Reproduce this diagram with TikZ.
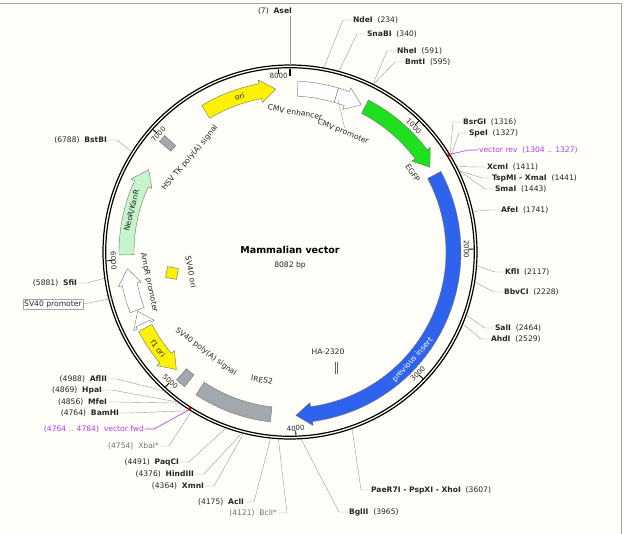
\documentclass[tikz,border=0pt]{standalone}
\usepackage{fontspec}
\setmainfont{DejaVu Sans}
\begin{document}
\definecolor{bg}{HTML}{FFFEF8}
\definecolor{egfp}{HTML}{1EE01E}
\definecolor{ins}{HTML}{2F63EE}
\definecolor{yel}{HTML}{FFF200}
\definecolor{neo}{HTML}{C6F5CC}
\definecolor{fgray}{HTML}{A2A8AE}
\definecolor{purp}{HTML}{B43CF0}
\newcommand\bp[1]{({90-(#1)*0.0445434}}
\newcommand\FArr[3]{%
 \pgfmathsetmacro\ta{90-(#1)*0.0445434}%
 \pgfmathsetmacro\tb{90-(#2)*0.0445434}%
 \pgfmathsetmacro\th{\tb+((#2)>(#1)?5.5:-5.5)}%
 \draw[#3] (\ta:171) arc[start angle=\ta,end angle=\th,radius=171] -- (\th:175) -- (\tb:163.5) -- (\th:152) -- (\th:156) arc[start angle=\th,end angle=\ta,radius=156] -- cycle;}
\newcommand\FBox[3]{%
 \pgfmathsetmacro\ta{90-(#1)*0.0445434}%
 \pgfmathsetmacro\tb{90-(#2)*0.0445434}%
 \draw[#3] (\ta:171) arc[start angle=\ta,end angle=\tb,radius=171] -- (\tb:156) arc[start angle=\tb,end angle=\ta,radius=156] -- cycle;}
\newcommand\EnzR[5][lead]{%
 \begin{scope}[imgc]\node[enz,anchor=west] (#2) at (#3) {#4};\end{scope}
 \draw[#1] \bp{#5}:187.5) -- ([xshift=-9pt]#2.west) -- (#2.west);}
\newcommand\EnzL[5][lead]{%
 \begin{scope}[imgc]\node[enz,anchor=east] (#2) at (#3) {#4};\end{scope}
 \draw[#1] \bp{#5}:187.5) -- ([xshift=9pt]#2.east) -- (#2.east);}
\newcommand\Tk[1]{%
 \pgfmathsetmacro\tt{90-(#1)*0.0445434}%
 \pgfmathsetmacro\rot{((#1)>2020 && (#1)<6060) ? (\tt+90) : (\tt-90)}%
 \draw[line width=0.9pt] (\tt:183.5) -- (\tt:178.5);
 \node[tick,rotate=\rot] (t#1) at (\tt:176.5) {#1};}
\tikzset{
 x=1pt,y=1pt,
 imgc/.style={shift={(-290,252)},yscale=-1},
 enz/.style={font=\fontsize{7.6}{8}\selectfont, inner sep=0.8pt, text=black!85},
 flab/.style={font=\fontsize{7.6}{8}\selectfont, inner sep=0.5pt, text=black!85},
 tick/.style={font=\fontsize{7}{8}\selectfont, inner sep=0.5pt, text=black!85},
 lead/.style={draw=black!40, line width=0.4pt},
 plead/.style={draw=purp, line width=0.6pt},
 feat/.style={draw=black!55, line width=0.4pt},
}
\begin{tikzpicture}
\useasboundingbox (-290,-282) rectangle (336,252);
\fill[bg] (-290,-282) rectangle (336,252);
\draw[black!35, line width=0.6pt] (-290,249) -- (331,249) -- (331,-282);
\draw[line width=1.2pt] (0,0) circle (187);
\draw[line width=1.2pt] (0,0) circle (184.3);
\draw[line width=1.6pt] (90:183) -- (90:176);
\FArr{7386}{7970}{feat,fill=yel}
\FBox{60}{370}{feat,fill=white}
\FArr{370}{580}{feat,fill=white}
\FArr{613}{1320}{feat,fill=egfp}
\FArr{1390}{3995}{feat,fill=ins}
\FBox{4190}{4790}{feat,fill=fgray}
\FBox{4895}{4975}{feat,fill=fgray}
\FArr{5440}{5030}{feat,fill=yel}
\FArr{5480}{5585}{feat,fill=white}
\FArr{5595}{5930}{feat,fill=white}
\FArr{6040}{6740}{feat,fill=neo}
\FBox{6965}{7025}{feat,fill=fgray}
\draw[red, line width=1.8pt] \bp{1304}:185.7) arc[start angle={90-1304*0.0445434},end angle={90-1327*0.0445434},radius=185.7];
\draw[red, line width=1.8pt] \bp{4764}:185.7) arc[start angle={90-4764*0.0445434},end angle={90-4784*0.0445434},radius=185.7];
\Tk{1000}\Tk{2000}\Tk{3000}\Tk{4000}\Tk{5000}\Tk{6000}\Tk{7000}\Tk{8000}
\node[flab,rotate=18] (lori) at \bp{7680}:163.5) {ori};
\node[flab,rotate=76] (lneo) at \bp{6390}:163.5) {NeoR/KanR};
\node[flab,rotate=-53] (lf1) at \bp{5250}:163.5) {f1 ori};
\node[flab,rotate=48,text=white] (lins) at \bp{2950}:163.5) {previous insert};
\node[flab,rotate=-57] (legfp) at \bp{1285}:146) {EGFP};
\begin{scope}[imgc]
\node[flab,rotate=-10] (lenh) at (295,112) {CMV enhancer};
\node[flab,rotate=-22] (lpro) at (343,132) {CMV promoter};
\node[flab,rotate=50] (lhsv) at (190,158) {HSV TK poly(A) signal};
\node[flab,rotate=-78] (lamp) at (149,283) {AmpR promoter};
\node[flab,rotate=-80] (lsvo) at (191,272) {SV40 ori};
\node[flab,rotate=-37] (lsvp) at (206,352) {SV40 poly(A) signal};
\node[flab,rotate=-10] (lires) at (262,380) {IRES2};
\node[flab] (lha) at (328,352) {HA-2320};
\node[draw=black!60, fill=yel, line width=0.4pt, minimum size=11pt, inner sep=0pt, rotate=-10] (svori) at (172,273) {};
\node[flab, draw=black!35, fill=white, inner sep=1.2pt, anchor=east] (lsv40p) at (83,304) {SV40 promoter};
\coordinate (ha1) at (335,362); \coordinate (ha2) at (335,374);
\coordinate (pp) at (338,100);
\coordinate (svp) at (115,298);
\node[font=\bfseries\fontsize{9.5}{10}\selectfont] (title) at (290,250) {Mammalian vector};
\node[flab] (size) at (290,265) {8082 bp};
\end{scope}
\draw[lead] (lpro.north) -- (pp);
\draw[lead] (lsv40p.east) -- (svp);
\draw[black!60, line width=0.5pt] (ha1) -- (ha2) ([xshift=2pt]ha1) -- ([xshift=2pt]ha2);
\begin{scope}[imgc]\node[enz,anchor=south] (ase) at (275,16) {(7)\ \ \textbf{AseI}};\end{scope}
\draw[lead] (90:187) -- (ase.south -| 0,0);
\EnzR{nde}{352,20}{\textbf{NdeI}\ \ (234)}{234}
\EnzR{sna}{366,34}{\textbf{SnaBI}\ \ (340)}{340}
\EnzR{nhe}{396,51}{\textbf{NheI}\ \ (591)}{591}
\EnzR{bmt}{404,62}{\textbf{BmtI}\ \ (595)}{595}
\EnzR{bsr}{462,122}{\textbf{BsrGI}\ \ (1316)}{1316}
\EnzR{spe}{468,133}{\textbf{SpeI}\ \ (1327)}{1327}
\EnzR[plead]{vrev}{478,150}{\textcolor{purp}{vector rev\ \ (1304 .. 1327)}}{1315}
\EnzR{xcm}{486,167}{\textbf{XcmI}\ \ (1411)}{1411}
\EnzR{tsp}{491,178}{\textbf{TspMI - XmaI}\ \ (1441)}{1441}
\EnzR{sma}{494,189}{\textbf{SmaI}\ \ (1443)}{1443}
\EnzR{afe}{500,210}{\textbf{AfeI}\ \ (1741)}{1741}
\EnzR{kfl}{504,272}{\textbf{KflI}\ \ (2117)}{2117}
\EnzR{bbv}{503,292}{\textbf{BbvCI}\ \ (2228)}{2228}
\EnzR{sal}{494,328}{\textbf{SalI}\ \ (2464)}{2464}
\EnzR{ahd}{490,339}{\textbf{AhdI}\ \ (2529)}{2529}
\EnzR{xho}{370,490}{\textbf{PaeR7I - PspXI - XhoI}\ \ (3607)}{3607}
\EnzR{bgl}{348,512}{\textbf{BglII}\ \ (3965)}{3965}
\EnzL{bst}{108,140}{(6788)\ \ \textbf{BstBI}}{6788}
\EnzL{sfi}{78,283}{(5881)\ \ \textbf{SfiI}}{5881}
\EnzL{afl}{108,379}{(4988)\ \ \textbf{AflII}}{4988}
\EnzL{hpa}{103,390}{(4869)\ \ \textbf{HpaI}}{4869}
\EnzL{mfe}{108,402}{(4856)\ \ \textbf{MfeI}}{4856}
\EnzL{bam}{120,413}{(4764)\ \ \textbf{BamHI}}{4764}
\EnzL[plead]{vfwd}{145,429}{\textcolor{purp}{(4764 .. 4784)\ \ vector fwd}}{4774}
\EnzL{xba}{160,446}{\textcolor{black!55}{(4754)\ \ XbaI*}}{4754}
\EnzL{paq}{180,462}{(4491)\ \ \textbf{PaqCI}}{4491}
\EnzL{hind}{195,474}{(4376)\ \ \textbf{HindIII}}{4376}
\EnzL{xmn}{205,486}{(4364)\ \ \textbf{XmnI}}{4364}
\EnzL{acl}{245,502}{(4175)\ \ \textbf{AclI}}{4175}
\EnzL{bcl}{278,513}{\textcolor{black!55}{(4121)\ \ BclI*}}{4121}
\end{tikzpicture}
\end{document}
